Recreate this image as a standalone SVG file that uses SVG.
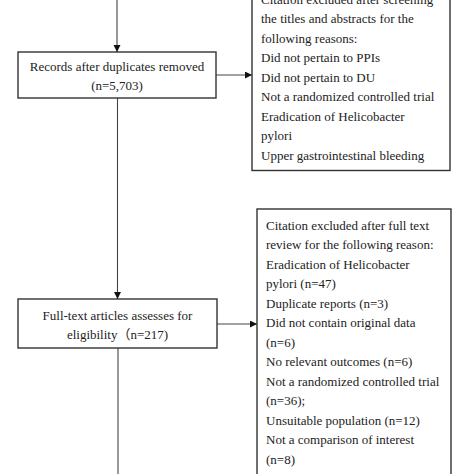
<svg xmlns="http://www.w3.org/2000/svg" width="474" height="474" viewBox="0 0 474 474">
<style>
.box{fill:#fff;stroke:#333;stroke-width:1.4}
.t{font-family:"Liberation Serif","Noto Sans CJK SC",serif;font-size:13px;fill:#222}
.c{text-anchor:middle}
.ln{stroke:#444;stroke-width:1.1;fill:none}
</style>
<defs>
<marker id="ah" markerWidth="8" markerHeight="8" refX="7" refY="3.5" orient="auto" markerUnits="userSpaceOnUse">
<path d="M0,0 L7,3.5 L0,7 Z" fill="#111"/>
</marker>
</defs>
<rect width="474" height="474" fill="#fff"/>
<g id="connectors">
<line class="ln" x1="117" y1="0" x2="117" y2="52" marker-end="url(#ah)"/>
<line class="ln" x1="216" y1="75" x2="252" y2="75" marker-end="url(#ah)"/>
<line class="ln" x1="117.5" y1="98" x2="117.5" y2="299" marker-end="url(#ah)"/>
<line class="ln" x1="217" y1="324" x2="257" y2="324" marker-end="url(#ah)"/>
<line class="ln" x1="118" y1="348" x2="118" y2="474"/>
</g>
<g id="records">
<rect class="box" x="18" y="52" width="198" height="46"/>
<text class="t c" x="117" y="71">Records after duplicates removed</text>
<text class="t c" x="117" y="90">(n=5,703)</text>
</g>
<g id="excluded1">
<rect class="box" x="252" y="-10" width="198" height="180.5"/>
<text class="t" x="261">
<tspan x="261" y="3.5">Citation excluded after screening</tspan>
<tspan x="261" y="23">the titles and abstracts for the</tspan>
<tspan x="261" y="42.5">following reasons:</tspan>
<tspan x="261" y="62">Did not pertain to PPIs</tspan>
<tspan x="261" y="81.5">Did not pertain to DU</tspan>
<tspan x="261" y="101">Not a randomized controlled trial</tspan>
<tspan x="261" y="120.5">Eradication of Helicobacter</tspan>
<tspan x="261" y="140">pylori</tspan>
<tspan x="261" y="159.5">Upper gastrointestinal bleeding</tspan>
</text>
</g>
<g id="fulltext">
<rect class="box" x="18" y="299" width="199" height="49"/>
<text class="t c" x="117.5" y="320">Full-text articles assesses for</text>
<text class="t c" x="117.5" y="339">eligibility（n=217)</text>
</g>
<g id="excluded2">
<rect class="box" x="257" y="209" width="194" height="280"/>
<text class="t">
<tspan x="266" y="229.5">Citation excluded after full text</tspan>
<tspan x="266" y="249">review for the following reason:</tspan>
<tspan x="266" y="268.5">Eradication of Helicobacter</tspan>
<tspan x="266" y="288">pylori (n=47)</tspan>
<tspan x="266" y="307.5">Duplicate reports (n=3)</tspan>
<tspan x="266" y="327">Did not contain original data</tspan>
<tspan x="266" y="346.5">(n=6)</tspan>
<tspan x="266" y="366">No relevant outcomes (n=6)</tspan>
<tspan x="266" y="385.5">Not a randomized controlled trial</tspan>
<tspan x="266" y="405">(n=36);</tspan>
<tspan x="266" y="424.5">Unsuitable population (n=12)</tspan>
<tspan x="266" y="444">Not a comparison of interest</tspan>
<tspan x="266" y="463.5">(n=8)</tspan>
</text>
</g>
</svg>
